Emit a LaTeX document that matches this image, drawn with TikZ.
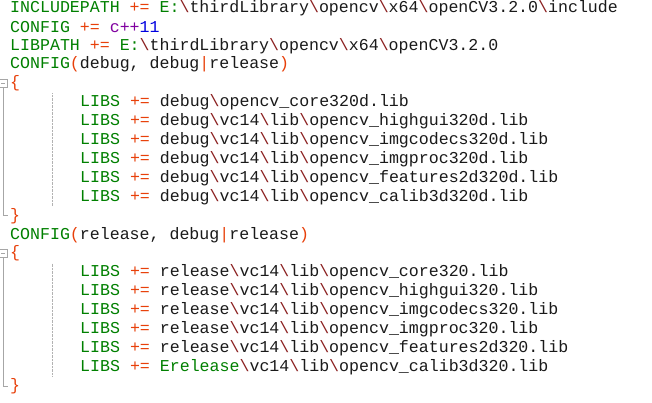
\documentclass[tikz,border=0pt]{standalone}
\usepackage{fontspec}
\setmonofont{Liberation Mono}
\definecolor{kw}{HTML}{008000}
\definecolor{op}{HTML}{E8400A}
\definecolor{bsc}{HTML}{8B2020}
\definecolor{txt}{HTML}{1A1A1A}
\definecolor{pur}{HTML}{8000A0}
\definecolor{num}{HTML}{0000E0}
\newcommand\kw[1]{\textcolor{kw}{#1}}
\newcommand\op[1]{\textcolor{op}{#1}}
\newcommand\bs{\textcolor{bsc}{\textbackslash}}
\newcommand\pe{\op{+=}}
\begin{document}
\begin{tikzpicture}[x=1pt,y=1pt,
  line/.style={anchor=west,inner sep=0pt,font=\ttfamily\fontsize{16.6}{18}\selectfont,text=txt},
  gut/.style={draw=gray!70,line width=0.8pt}]
\useasboundingbox[fill=white] (0,0) rectangle (652,403);
\def\Y#1{403-8-18.9*(#1-1)}
\node[line] (l1) at (10,{\Y{1}}) {\kw{INCLUDEPATH} \pe{} \kw{E:}\bs thirdLibrary\bs opencv\bs x64\bs openCV3.2.0\bs include};
\node[line] (l2) at (10,{\Y{2}}) {\kw{CONFIG} \pe{} \textcolor{pur}{c++}\textcolor{num}{11}};
\node[line] (l3) at (10,{\Y{3}}) {\kw{LIBPATH} \pe{} \kw{E:}\bs thirdLibrary\bs opencv\bs x64\bs openCV3.2.0};
\node[line] (l4) at (10,{\Y{4}}) {\kw{CONFIG}\op{(}debug, debug\op{|}release\op{)}};
\node[line] (l5) at (10,{\Y{5}}) {\op{\{}};
\node[line] (l6) at (80,{\Y{6}}) {\kw{LIBS} \pe{} debug\bs opencv\_core320d.lib};
\node[line] (l7) at (80,{\Y{7}}) {\kw{LIBS} \pe{} debug\bs vc14\bs lib\bs opencv\_highgui320d.lib};
\node[line] (l8) at (80,{\Y{8}}) {\kw{LIBS} \pe{} debug\bs vc14\bs lib\bs opencv\_imgcodecs320d.lib};
\node[line] (l9) at (80,{\Y{9}}) {\kw{LIBS} \pe{} debug\bs vc14\bs lib\bs opencv\_imgproc320d.lib};
\node[line] (l10) at (80,{\Y{10}}) {\kw{LIBS} \pe{} debug\bs vc14\bs lib\bs opencv\_features2d320d.lib};
\node[line] (l11) at (80,{\Y{11}}) {\kw{LIBS} \pe{} debug\bs vc14\bs lib\bs opencv\_calib3d320d.lib};
\node[line] (l12) at (10,{\Y{12}}) {\op{\}}};
\node[line] (l13) at (10,{\Y{13}}) {\kw{CONFIG}\op{(}release, debug\op{|}release\op{)}};
\node[line] (l14) at (10,{\Y{14}}) {\op{\{}};
\node[line] (l15) at (80,{\Y{15}}) {\kw{LIBS} \pe{} release\bs vc14\bs lib\bs opencv\_core320.lib};
\node[line] (l16) at (80,{\Y{16}}) {\kw{LIBS} \pe{} release\bs vc14\bs lib\bs opencv\_highgui320.lib};
\node[line] (l17) at (80,{\Y{17}}) {\kw{LIBS} \pe{} release\bs vc14\bs lib\bs opencv\_imgcodecs320.lib};
\node[line] (l18) at (80,{\Y{18}}) {\kw{LIBS} \pe{} release\bs vc14\bs lib\bs opencv\_imgproc320.lib};
\node[line] (l19) at (80,{\Y{19}}) {\kw{LIBS} \pe{} release\bs vc14\bs lib\bs opencv\_features2d320.lib};
\node[line] (l20) at (80,{\Y{20}}) {\kw{LIBS} \pe{} \kw{Erelease}\bs vc14\bs lib\bs opencv\_calib3d320.lib};
\node[line] (l21) at (10,{\Y{21}}) {\op{\}}};
% fold markers
\foreach \a/\b in {5/12,14/21}{
  \draw[gut] (3,{\Y{\a}-4}) -- (3,{\Y{\b}}) -- (8,{\Y{\b}});
  \draw[gut,fill=white] (-1,{\Y{\a}-4}) rectangle (7,{\Y{\a}+4});
  \draw[gut] (1,{\Y{\a}}) -- (5,{\Y{\a}});
}
\draw[gray!60,densely dotted] (52,{\Y{6}+9}) -- (52,{\Y{11}-9});
\draw[gray!60,densely dotted] (52,{\Y{15}+9}) -- (52,{\Y{20}-9});
\end{tikzpicture}
\end{document}
